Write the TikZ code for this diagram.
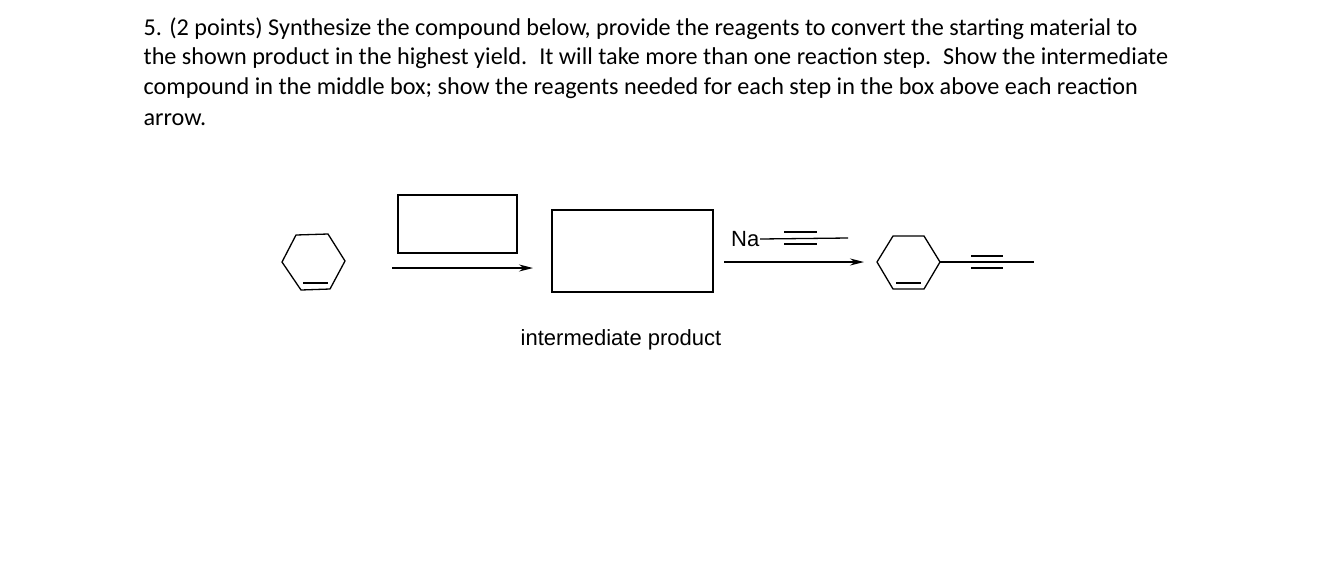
\documentclass[tikz,border=0pt]{standalone}
\usepackage{fontspec}
\setmainfont{Carlito}
\newfontfamily\arialf{Liberation Sans}
\usetikzlibrary{arrows.meta}
\begin{document}
\begin{tikzpicture}[x=1pt,y=-1pt,line width=1.3pt,
  hdr/.style={anchor=base west,inner sep=0,font=\fontsize{24.2}{28}\selectfont},
  bx/.style={draw,line width=1.3pt},
  rxn/.style={-{Stealth[length=14pt,width=7pt]},line width=1.5pt},
  bond/.style={line width=1.3pt}]
\useasboundingbox (0,0) rectangle (1329,574);
\node[hdr] (l1) at (143,35) {5. (2 points) Synthesize the compound below, provide the reagents to convert the starting material to};
\node[hdr] (l2) at (143,64) {the shown product in the highest yield.\enspace It will take more than one reaction step.\enspace Show the intermediate};
\node[hdr] (l3) at (143,94) {compound in the middle box; show the reagents needed for each step in the box above each reaction};
\node[hdr] (l4) at (143,125) {arrow.};
% starting material
\draw[bond] (296,235) -- (328,234) -- (345,261) -- (330,289) -- (301,290) -- (282,262) -- cycle;
\draw[bond] (303,283) -- (328,283);
% box 1 and arrow 1
\node[bx,minimum width=119pt,minimum height=58pt] (b1) at (457.5,224) {};
\coordinate (a1s) at (392,268); \coordinate (a1e) at (533,268);
\draw[rxn] (a1s) -- (a1e);
% box 2
\node[bx,minimum width=161pt,minimum height=82pt] (b2) at (632.5,251) {};
\node[font=\arialf\fontsize{22}{26}\selectfont,anchor=base] (lab) at (621,345) {intermediate product};
% reagent
\node[font=\arialf\fontsize{22}{26}\selectfont,inner sep=0,anchor=east] (na) at (760,239) {Na};
\coordinate (r1) at (848,238);
\draw[line width=1.3pt] (na.east) -- (r1);
\draw[line width=1.3pt] (784,232) -- (817,232) (784,244) -- (817,244);
\coordinate (a2s) at (724,262); \coordinate (a2e) at (864,262);
\draw[rxn] (a2s) -- (a2e);
% product
\draw[bond] (877,262) -- (893,236) -- (924,236) -- (940,262) -- (924,289) -- (893,289) -- cycle;
\draw[bond] (896,283) -- (921,283);
\coordinate (p1) at (940,262); \coordinate (p2) at (1034,262);
\draw[bond] (p1) -- (p2);
\draw[bond] (971,256) -- (1003,256) (971,268) -- (1003,268);
\end{tikzpicture}
\end{document}
